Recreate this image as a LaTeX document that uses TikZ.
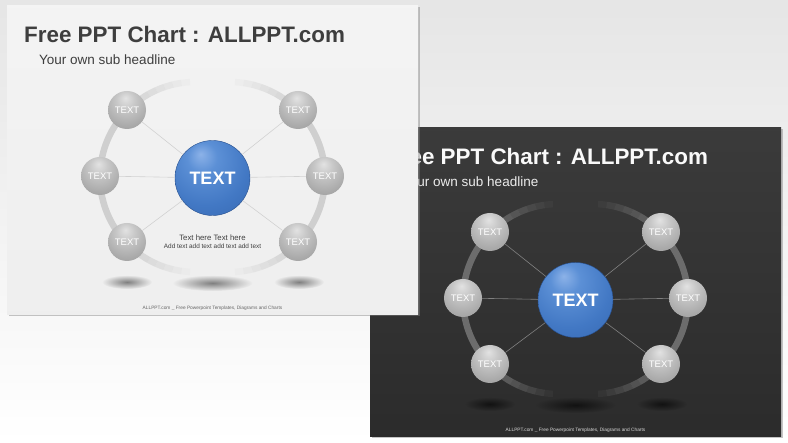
\documentclass[tikz,border=0pt]{standalone}
\usepackage{fontspec}
\setmainfont{Liberation Sans}
\usetikzlibrary{positioning,shadows,fadings}
\definecolor{inkgrey}{RGB}{62,62,62}
\definecolor{ringdark}{RGB}{108,108,108}
\definecolor{spokedark}{RGB}{128,128,128}
\definecolor{beadA}{RGB}{226,226,226}
\definecolor{beadB}{RGB}{200,200,200}
\definecolor{beadC}{RGB}{170,170,170}
\definecolor{beadD}{RGB}{146,146,146}
\definecolor{beadE}{RGB}{126,126,126}
\definecolor{hubA}{RGB}{140,178,232}
\definecolor{hubB}{RGB}{92,144,214}
\definecolor{hubC}{RGB}{66,120,196}
\definecolor{hubD}{RGB}{52,100,172}
\definecolor{hubE}{RGB}{38,78,140}
\pgfdeclareradialshading{beadball}{\pgfpoint{-2bp}{16bp}}{color(0bp)=(beadA); color(12bp)=(beadB); color(30bp)=(beadC); color(48bp)=(beadD); color(70bp)=(beadE)}
\pgfdeclareradialshading{hubball}{\pgfpoint{-8bp}{16bp}}{color(0bp)=(hubA); color(10bp)=(hubB); color(28bp)=(hubC); color(48bp)=(hubD); color(70bp)=(hubE)}
\tikzfading[name=floor fade, inner color=transparent!0, outer color=transparent!100]

\tikzset{
  sheet/.style={top color=gray!9, middle color=white, bottom color=gray!13,
    drop shadow={shadow xshift=1.5pt, shadow yshift=-1.5pt, opacity=.45}},
  headline/.style={anchor=base west, inner sep=0, text=inkgrey,
    font=\bfseries\fontsize{22.4}{25}\selectfont},
  subline/.style={anchor=base west, inner sep=0, text=inkgrey,
    font=\fontsize{13.5}{15}\selectfont},
  ring/.style={draw=gray!38, line width=6.5pt},
  spoke/.style={draw=gray!35, line width=.6pt},
  floor/.style={fill=black!50, path fading=floor fade},
  hub/.style={circle, shading=hubball, draw=hubE, line width=.4pt,
    minimum size=75pt, inner sep=0, text=white,
    font=\bfseries\fontsize{18}{20}\selectfont},
  bead/.style={circle, shading=beadball, minimum size=38pt, inner sep=0,
    text=white, font=\fontsize{9.5}{10}\selectfont},
  note/.style={inner sep=0, text=inkgrey, font=\fontsize{7.8}{9}\selectfont},
  foot/.style={inner sep=0, text=gray!80!black, font=\fontsize{4.8}{6}\selectfont}
}

\newcommand{\slide}[1]{%
  % the sheet and its titles
  \fill[sheet] (7,6) rectangle (418,315);
  \node[headline] (#1-title) at (24,43) {Free PPT Chart : ALLPPT.com};
  \node[subline] (#1-sub) at (39,65) {Your own sub headline};
  % ring: solid sides, fading ends
  \draw[ring] plot[domain=135:225, samples=40] ({195+95*cos(\x)},{177-95*sin(\x)});
  \draw[ring] plot[domain=-45:45, samples=40] ({230+95*cos(\x)},{177-95*sin(\x)});
  \foreach \cx/\a/\b in {195/135/93, 195/225/267, 230/45/87, 230/-45/-87} {
    \foreach \k in {0,...,7} {
      \pgfmathsetmacro\sa{\a+(\b-\a)*\k/8}
      \pgfmathsetmacro\sb{\a+(\b-\a)*(\k+1)/8}
      \pgfmathsetmacro\op{0.95*(1-\k/8)}
      \draw[ring, draw opacity=\op] plot[domain=\sa:\sb, samples=5] ({\cx+95*cos(\x)},{177-95*sin(\x)});
    }
  }
  % shadows on the floor
  \fill[floor] (127,282) ellipse [x radius=25, y radius=7];
  \fill[floor] (212.5,283) ellipse [x radius=40, y radius=8];
  \fill[floor] (299,282) ellipse [x radius=25, y radius=7];
  % hub and beads
  \node[hub] (#1-c) at (212.5,178) {TEXT};
  \foreach \n/\px/\py in {1/127/110, 2/298/110, 3/100/176, 4/325/176, 5/127/242, 6/298/242} {
    \node[bead] (#1-\n) at (\px,\py) {TEXT};
    \draw[spoke] (#1-c) -- (#1-\n);
  }
  \node[foot] (#1-foot) at (212.5,308) {ALLPPT.com \_ Free Powerpoint Templates, Diagrams and Charts};
}

\begin{document}
\begin{tikzpicture}[x=1pt, y=-1pt]
\useasboundingbox (0,0) rectangle (788,443);
\fill[top color=gray!20, bottom color=white] (0,0) rectangle (788,443);

% dark slide, behind
\begin{scope}[shift={(363,122)},
  sheet/.style={top color=black!77, middle color=black!73, bottom color=black!83,
    drop shadow={shadow xshift=1.5pt, shadow yshift=-1.5pt, opacity=.45}},
  headline/.append style={text=white!95!gray},
  subline/.append style={text=white!85!gray},
  ring/.style={draw=ringdark, line width=6.5pt},
  spoke/.style={draw=spokedark, line width=.6pt},
  floor/.style={fill=black, fill opacity=.6, path fading=floor fade},
  foot/.append style={text=gray!30}]
\slide{r}
\end{scope}

% light slide, in front
\slide{l}
\node[note] (l-note) at (212.5,238) {Text here Text here};
\node[note, font=\fontsize{6.4}{7}\selectfont, below=2.5pt of l-note] (l-add) {Add text add text add text add text};
\end{tikzpicture}
\end{document}
